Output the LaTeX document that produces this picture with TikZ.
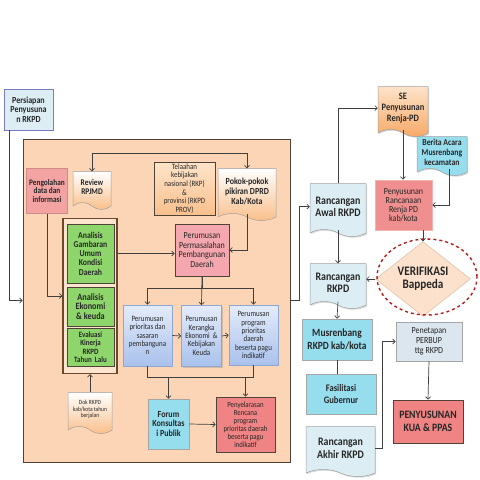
\documentclass[tikz,border=0pt]{standalone}
\usepackage{fontspec}
\setmainfont{Carlito}[FakeStretch=0.86]
\usetikzlibrary{arrows.meta, positioning, calc, shapes.symbols, shapes.geometric, shadows}

\definecolor{peach}{HTML}{FBD5B5}
\definecolor{frame}{HTML}{4F4338}
\definecolor{grpfill}{HTML}{FDE4CE}
\definecolor{grpline}{HTML}{6B4A2B}
\definecolor{rose}{HTML}{F4A3A3}
\definecolor{permapink}{HTML}{F4A7AE}
\definecolor{redbox}{HTML}{F08383}
\definecolor{penyred}{HTML}{EF8F8F}
\definecolor{leaf}{HTML}{8ED66C}
\definecolor{sky}{HTML}{96DDEE}
\definecolor{ice}{HTML}{DCEEF4}
\definecolor{steel}{HTML}{DCE6EE}
\definecolor{bluetop}{HTML}{E4ECFA}
\definecolor{bluebot}{HTML}{A9C1EC}
\definecolor{blueline}{HTML}{8EA6D2}
\definecolor{orangedoc}{HTML}{F9BE88}
\definecolor{setop}{HTML}{FDE3CA}
\definecolor{sebot}{HTML}{F7A865}
\definecolor{teltop}{HTML}{FEE4CA}
\definecolor{telbot}{HTML}{F9C08C}
\definecolor{diam}{HTML}{FCE1CC}
\definecolor{diamline}{HTML}{E2C2A8}
\definecolor{persline}{HTML}{7B7BC0}
\definecolor{darkline}{HTML}{3F3F3F}
\definecolor{ringred}{HTML}{B81C1C}

\newcommand{\fz}[2]{\fontsize{#1}{#2}\selectfont}

\begin{document}
\begin{tikzpicture}[x=1pt, y=-1pt,
  txt/.style={align=center, inner sep=0pt, text=black!85},
  sz/.style 2 args={minimum width=#1, minimum height=#2},
  card/.style={txt, rectangle, draw=frame, line width=0.6pt},
  doc/.style={txt, tape, tape bend top=none, tape bend bottom=out and in,
    tape bend height=7pt, draw=gray!75, line width=0.5pt},
  bluebox/.style={txt, rectangle, draw=blueline, line width=0.6pt,
    top color=bluetop, bottom color=bluebot},
  shd/.style={drop shadow={shadow xshift=1.2pt, shadow yshift=-1.2pt, opacity=0.3}},
  link/.style={draw=darkline, line width=0.7pt},
  arr/.style={link, -{Straight Barb[length=2.5pt, width=5pt]}},
  arrs/.style={link, {Straight Barb[length=2.5pt, width=5pt]}-{Straight Barb[length=2.5pt, width=5pt]}}]
  \useasboundingbox (0,0) rectangle (480,480);

  % start
  \node[card, fill=ice, draw=persline, sz={49}{41}, font=\bfseries\fz{9.3}{9.6}] (persiapan) at (28.5,109.5) {Persiapan\\Penyusuna\\n RKPD};

  % big working area
  \node[rectangle, draw=frame, fill=peach, line width=0.8pt, sz={267}{323}, shd] (main) at (156.5,300.5) {};

  % inputs
  \node[card, fill=rose, draw=rose!85!black, sz={41}{45}, font=\bfseries\fz{8.5}{8.8}] (olah) at (47,191) {Pengolahan\\data dan\\informasi};
  \node[doc, top color=white, bottom color=orangedoc, sz={38}{38}, font=\bfseries\fz{8.7}{9.5}] (review) at (92,187) {Review\\RPJMD};
  \node[card, top color=teltop, bottom color=telbot, sz={61}{53}, font=\fz{8.1}{8.6}] (telaah) at (184.5,188.5) {Telaahan\\kebijakan\\nasional (RKP)\\\&\\provinsi (RKPD\\PROV)};
  \node[doc, top color=white, bottom color=orangedoc, sz={58}{52}, font=\bfseries\fz{9.3}{10}] (pokok) at (247,191) {Pokok-pokok\\pikiran DPRD\\Kab/Kota};

  % analysis group
  \node[rectangle, draw=grpline, fill=grpfill, line width=1.1pt, sz={54}{155}] (grp) at (90,296) {};
  \node[card, fill=leaf, sz={47}{59}, font=\bfseries\fz{9}{9.3}] (g1) at (90.5,253.5) {Analisis\\Gambaran\\Umum\\Kondisi\\Daerah};
  \node[card, fill=leaf, sz={47}{39}, font=\bfseries\fz{9.6}{9.6}] (g2) at (90.5,306.5) {Analisis\\Ekonomi\\\& keuda};
  \node[card, fill=leaf, sz={47}{38}, font=\bfseries\fz{8.1}{8.5}] (g3) at (90.5,347) {Evaluasi\\Kinerja\\RKPD\\Tahun~ Lalu};
  \node[doc, top color=white, bottom color=orangedoc, sz={44}{41}, font=\fz{6.4}{6.8}] (dok) at (90,409.5) {Dok RKPD\\kab/kota tahun\\berjalan};

  % formulation
  \node[card, fill=permapink, sz={54}{52}, shd, font=\fz{9.3}{9.5}] (perma) at (202,250) {Perumusan\\Permasalahan\\Pembangunan\\Daerah};
  \node[bluebox, sz={49}{61}, shd, font=\fz{8.1}{8.3}] (p1) at (147.5,335.5) {Perumusan\\prioritas dan\\sasaran\\pembanguna\\n};
  \node[bluebox, sz={40}{61}, shd, font=\fz{8.1}{8.3}] (p2) at (201.5,336) {Perumusan\\Kerangka\\Ekonomi~ \&\\Kebijakan\\Keuda};
  \node[bluebox, sz={49}{60}, shd, font=\fz{8.1}{8.3}] (p3) at (253.5,335) {Perumusan\\program\\prioritas\\daerah\\beserta pagu\\indikatif};
  \node[card, fill=sky, draw=gray!70, sz={41}{50}, shd, font=\bfseries\fz{9.3}{9.5}] (forum) at (168.5,424) {Forum\\Konsultas\\i Publik};
  \node[card, fill=redbox, sz={59}{55}, shd, font=\fz{7.9}{8}] (penyel) at (245.5,424.5) {Penyelarasan\\Rencana\\program\\prioritas daerah\\beserta pagu\\indikatif};

  % right column
  \node[doc, fill=ice, sz={56}{53}, shd, font=\bfseries\fz{11.5}{11.8}] (ranawal) at (338,206.5) {Rancangan\\Awal RKPD};
  \node[doc, top color=setop, bottom color=sebot, sz={50}{50}, shd, font=\bfseries\fz{9.8}{11}] (se) at (403,108) {SE\\Penyusunan\\Renja-PD};
  \node[doc, fill=sky, sz={50}{39}, shd, font=\bfseries\fz{9}{9.7}] (berita) at (442,152.5) {Berita Acara\\Musrenbang\\kecamatan};
  \node[card, fill=penyred, draw=penyred!70!white, sz={57}{50}, shd, font=\fz{9.3}{8.9}] (penyusun) at (403.5,205) {Penyusunan\\Rancanaan\\Renja PD\\kab/kota};
  \node[txt, diamond, fill=diam, draw=diamline, line width=0.6pt, sz={95}{72}, font=\bfseries\fz{13}{13.5}] (verif) at (423,279) {VERIFIKASI\\Bappeda};
  \node[ellipse, draw=ringred, dashed, line width=1.4pt, sz={100}{76}] (ring) at (427,277) {};
  \node[doc, fill=ice, sz={56}{45}, shd, font=\bfseries\fz{11.5}{11.8}] (ranrkpd) at (338,282.5) {Rancangan\\RKPD};
  \node[card, fill=sky, draw=gray!70, sz={70}{41}, shd, font=\bfseries\fz{11}{13}] (musren) at (337,339.5) {Musrenbang\\RKPD kab/kota};
  \node[card, fill=sky, draw=gray!70, sz={70}{40}, shd, font=\bfseries\fz{10}{11.7}] (fasil) at (341,394) {Fasilitasi\\Gubernur};
  \node[doc, fill=ice, sz={69}{50}, shd, font=\bfseries\fz{11.5}{12.7}] (ranakhir) at (340.5,448) {Rancangan\\Akhir RKPD};
  \node[card, fill=steel, draw=gray!70, sz={66}{39}, shd, font=\fz{9.3}{10}] (penetap) at (429,341.5) {Penetapan\\PERBUP\\ttg RKPD};
  \node[card, fill=redbox, sz={70}{43}, shd, font=\bfseries\fz{11.3}{13}] (kua) at (428,421.5) {PENYUSUNAN\\KUA \& PPAS};

  % connectors, left part
  \draw[arr] (persiapan.south west) ++(6,0) |- (main.west);
  \draw[arrs] (review.north) -- ++(0,-18) -| (pokok.north);
  \draw[arr] (olah.south) |- (grp.west);
  \draw[arr] (g1.east -| grp.east) -- (g1.east -| perma.west);
  \draw[arr] (pokok.south) |- (perma.east);
  \draw[arr] (dok.north) -- (grp.south);
  \draw[arr] (perma.south) -- (p2.north);
  \draw[arr] (perma.south) -- ++(0,12) -| (p1.north);
  \draw[arr] (perma.south) -- ++(0,12) -| (p3.north);
  \draw[arr] (p1.east) -- (p2.west);
  \draw[arr] (p2.east) -- (p3.west);
  \coordinate (bus) at (0,377);
  \draw[link] (p1.south) |- (p3.south |- bus) -- (p3.south);
  \draw[arr] (forum.north |- bus) -- (forum.north);
  \draw[arr] (penyel.north |- bus) -- (penyel.north);
  \draw[arr] (forum.east) -- (penyel.west);

  % connectors, right part
  \draw[arr] (main.east) -- ++(9,0) |- (ranawal.west);
  \draw[arr] (ranawal.north) |- (se.west);
  \draw[arr] (se.south) -- (se.south |- penyusun.north);
  \draw[arr] ([xshift=7pt]berita.south) |- (penyusun.east);
  \draw[arr] (penyusun.south -| verif.north) -- (verif.north);
  \draw[arr] (verif.west) -- (verif.west -| ranrkpd.east);
  \draw[arr] (ranawal.south) -- (ranrkpd.north);
  \draw[arr] (ranrkpd.south) -- (musren.north);
  \draw[link] (musren.south) -- (musren.south |- fasil.north);
  \draw[arr] (ranakhir.east) -- ++(7,0) |- (penetap.west);
  \draw[arr] (penetap.south) -- (kua.north);
\end{tikzpicture}
\end{document}
